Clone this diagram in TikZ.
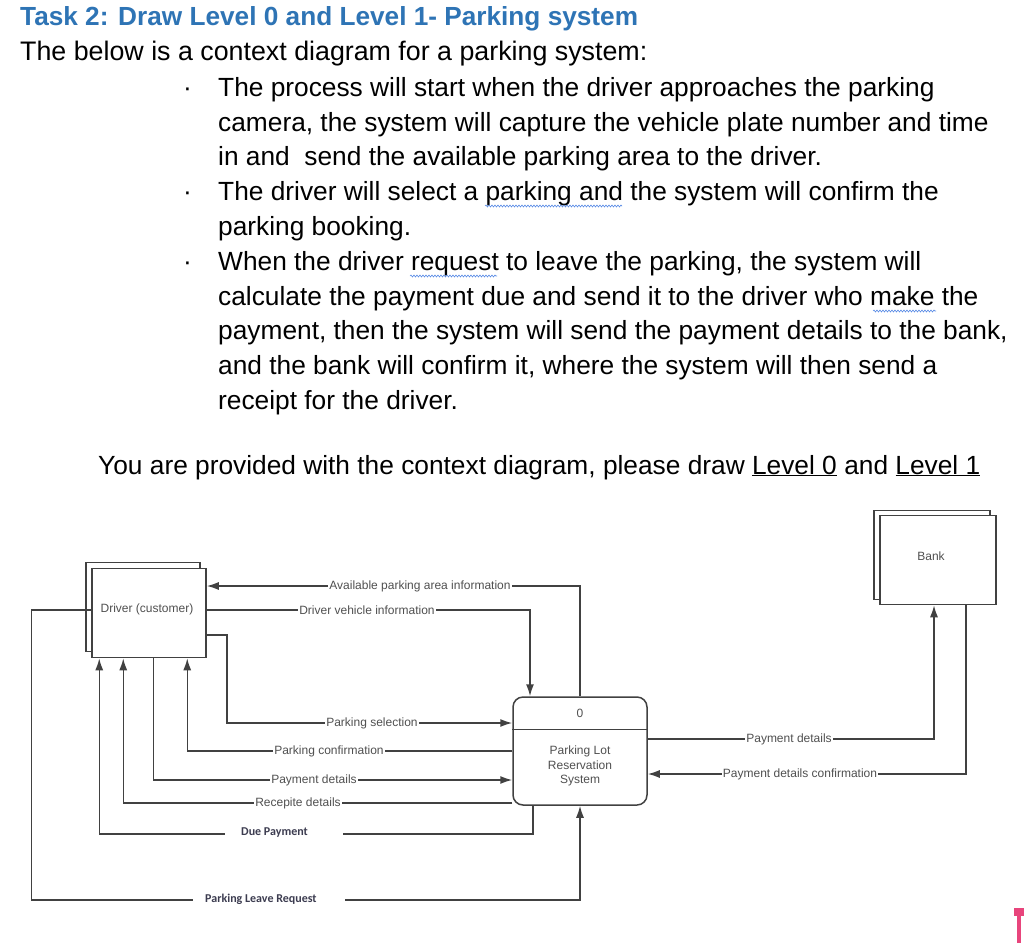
\documentclass[tikz,border=0pt]{standalone}
\usepackage{fontspec}
\setmainfont{Liberation Sans}
\newfontfamily\carlito{Carlito}
\usetikzlibrary{arrows.meta,decorations.pathmorphing}
\definecolor{titleblue}{RGB}{46,116,181}
\definecolor{wavyblue}{RGB}{90,140,230}
\definecolor{tpink}{RGB}{232,69,124}
\definecolor{linegray}{RGB}{65,65,65}
\definecolor{labelgray}{RGB}{80,80,80}
\definecolor{duenavy}{RGB}{60,60,80}
\begin{document}
\begin{tikzpicture}[x=1pt,y=-1pt,
  body/.style={anchor=base west,inner sep=0pt,font=\fontsize{26.3}{30}\selectfont},
  ebox/.style={draw=linegray,line width=1.5pt,fill=white,minimum width=114pt,minimum height=89pt,inner sep=0pt},
  procbox/.style={draw=linegray,line width=1.5pt,fill=white,rounded corners=10pt,minimum width=134pt,minimum height=108pt,inner sep=0pt},
  flow/.style={draw=linegray,line width=1.5pt},
  arr/.style={flow,-{Latex[length=12pt,width=8pt]}},
  boxtext/.style={text=labelgray,font=\fontsize{12}{14.5}\selectfont,align=center,inner sep=0pt},
  lbl/.style={fill=white,inner xsep=1pt,inner ysep=0.5pt,text=labelgray,font=\fontsize{12}{14}\selectfont},
  dlbl/.style={fill=white,inner ysep=1pt,text=duenavy,font=\carlito\bfseries\fontsize{12}{14}\selectfont},
  wavy/.style={draw=wavyblue,line width=0.6pt,decorate,decoration={snake,amplitude=1pt,segment length=3pt}}
]
\useasboundingbox (0,0) rectangle (1024,943);
\fill[white] (0,0) rectangle (1024,943);

% ---------- text ----------
\node[body,font=\fontsize{26.2}{30}\selectfont\bfseries,text=titleblue] (title) at (20,25) {Task 2: Draw Level 0 and Level 1- Parking system};
\node[body,font=\fontsize{26.8}{30}\selectfont] (intro) at (20,60) {The below is a context diagram for a parking system:};
\node[body] (b1) at (183,96) {·};
\node[body] (b2) at (183,200) {·};
\node[body] (b3) at (183,270) {·};
\node[body] (t1) at (218,96) {The process will start when the driver approaches the parking};
\node[body] (t2) at (218,131) {camera, the system will capture the vehicle plate number and time};
\node[body] (t3) at (218,165.5) {in and\ \ send the available parking area to the driver.};
\node[body] (t4) at (218,200.5) {The driver will select a parking and the system will confirm the};
\node[body] (t5) at (218,235) {parking booking.};
\node[body] (t6) at (218,270) {When the driver request to leave the parking, the system will};
\node[body] (t7) at (218,305) {calculate the payment due and send it to the driver who make the};
\node[body] (t8) at (218,339.5) {payment, then the system will send the payment details to the bank,};
\node[body] (t9) at (218,374.5) {and the bank will confirm it, where the system will then send a};
\node[body] (t10) at (218,409) {receipt for the driver.};
\node[body] (ask) at (98,474) {You are provided with the context diagram, please draw \underline{Level 0} and \underline{Level 1}};
\draw[wavy] (485,206) -- (622,206);
\draw[wavy] (410,276) -- (497,276);
\draw[wavy] (873,311) -- (936,311);

% ---------- entities ----------
\node[ebox] (driverback) at (143,607) {};
\node[ebox] (driver) at (149,613) {};
\node[boxtext] (drivertext) at (147,609) {Driver (customer)};
\node[ebox,minimum width=116pt] (bankback) at (932,555) {};
\node[ebox,minimum width=116pt] (bank) at (938,560) {};
\node[boxtext] (banktext) at (931,556) {Bank};

% ---------- process ----------
\node[procbox] (proc) at (580,751) {};
\draw[flow] ([yshift=-33pt]proc.north west) -- ([yshift=-33pt]proc.north east);
\node[boxtext] (procnum) at (580,713) {0};
\node[boxtext] (proctext) at (580,766) {Parking Lot\\Reservation\\System};

% ---------- flows ----------
\draw[arr] (proc.north) |- ([yshift=27pt]driver.east);
\draw[arr] ([yshift=3pt]driver.east) -| ([xshift=-50pt]proc.north);
\draw[arr] ([yshift=-22pt]driver.east) -- ++(20,0) |- ([yshift=28pt]proc.west);
\draw[arr] (proc.west) -| ([xshift=96pt]driver.south west);
\draw[arr] ([xshift=62pt]driver.south west) |- ([yshift=-29pt]proc.west);
\draw[arr] ([yshift=-52pt]proc.west) -| ([xshift=32pt]driver.south west);
\draw[arr] ([xshift=-47pt]proc.south) -- ++(0,28) -| ([xshift=8pt]driver.south west);
\draw[arr] ([yshift=3pt]driver.west) -- ++(-60,0) |- ([yshift=-94pt]proc.south) -- (proc.south);
\draw[arr] ([yshift=12pt]proc.east) -| ([xshift=-4pt]bank.south);
\draw[arr] ([xshift=28pt]bank.south) |- ([yshift=-23pt]proc.east);

% ---------- flow labels ----------
\node[lbl] (l1) at (420,586) {Available parking area information};
\node[lbl] (l2) at (367,610) {Driver vehicle information};
\node[lbl] (l3) at (372,723) {Parking selection};
\node[lbl] (l4) at (329,751) {Parking confirmation};
\node[lbl] (l5) at (314,780) {Payment details};
\node[lbl] (l6) at (298,803) {Recepite details};
\node[dlbl,inner xsep=0pt,anchor=west] (l7) at (225,833) {\rule{16pt}{0pt}Due Payment\rule{35pt}{0pt}};
\node[dlbl,inner xsep=0pt,anchor=west] (l8) at (193,899) {\rule{12pt}{0pt}Parking Leave Request\rule{28pt}{0pt}};
\node[lbl] (l9) at (789,739) {Payment details};
\node[lbl] (l10) at (800,774) {Payment details confirmation};

% ---------- cropped pink glyph ----------
\fill[tpink] (1014,908) rectangle (1024,916);
\fill[tpink] (1017,916) rectangle (1021,943);
\end{tikzpicture}
\end{document}
